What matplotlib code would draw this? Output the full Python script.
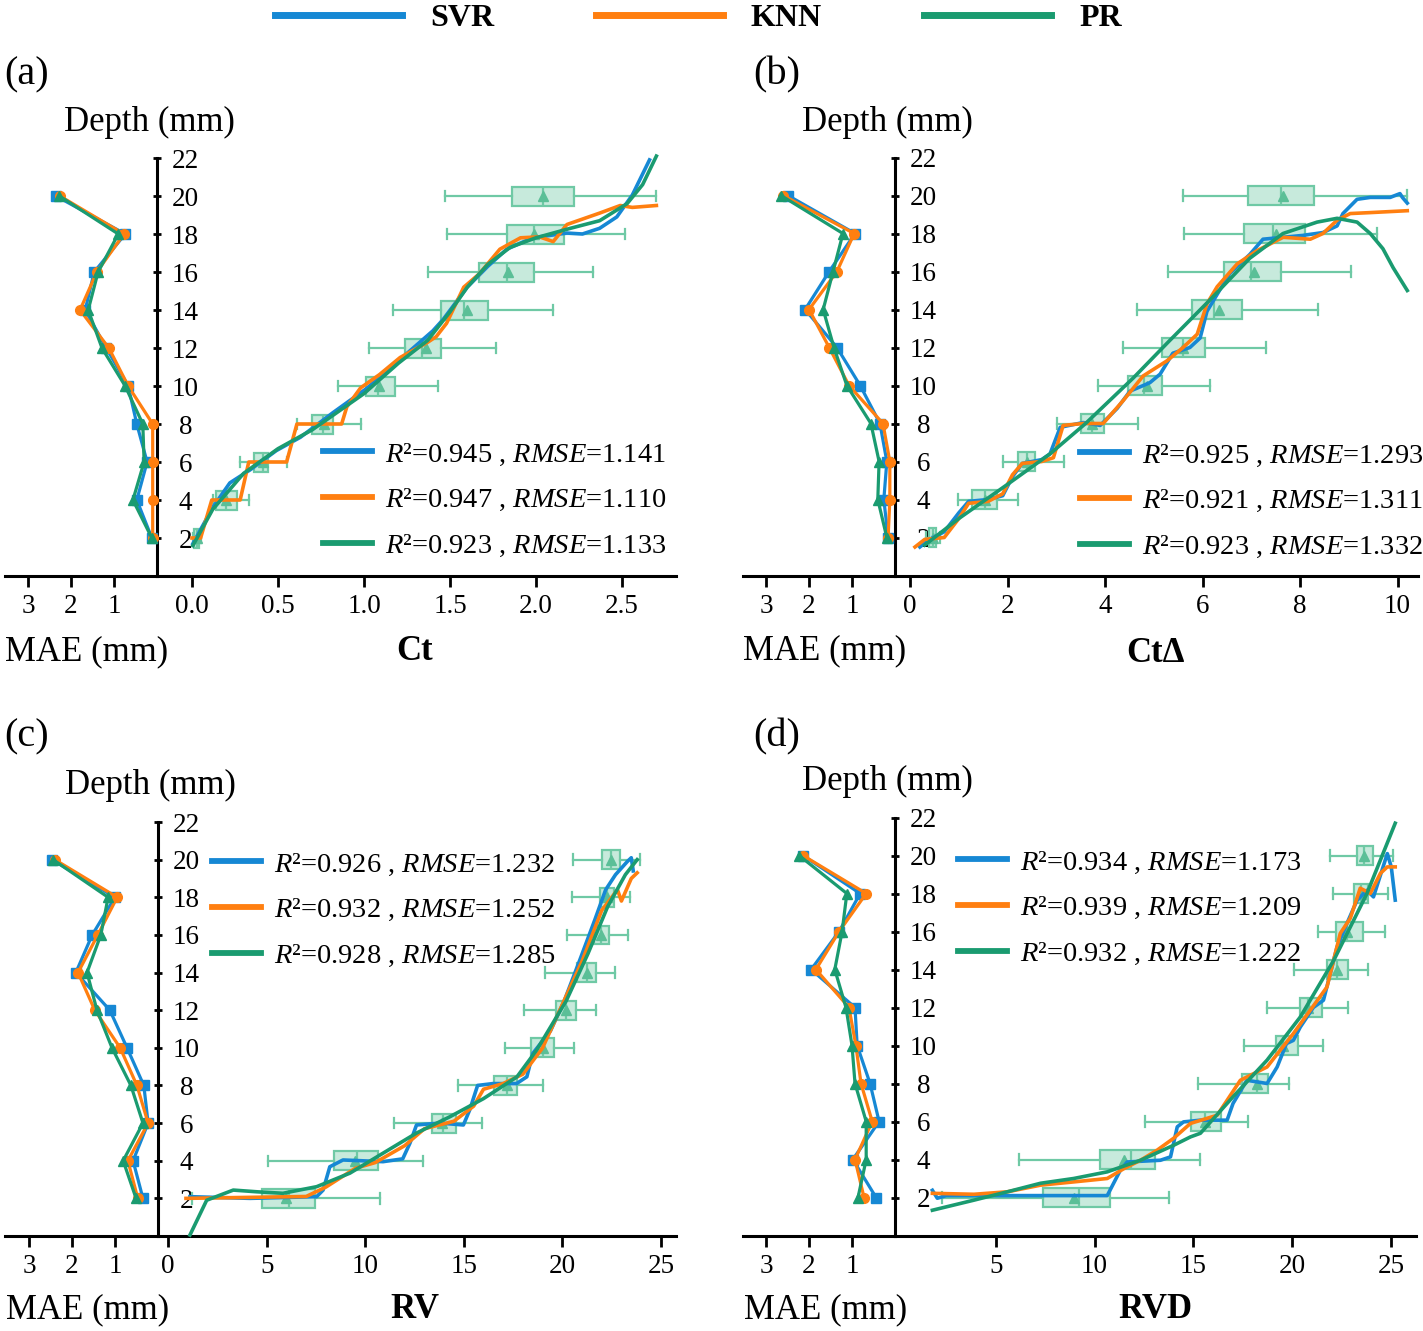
import numpy as np
import matplotlib
matplotlib.use("Agg")
import matplotlib.pyplot as plt
from matplotlib.lines import Line2D

plt.rcParams['font.family'] = ['Liberation Serif', 'DejaVu Serif']
plt.rcParams['mathtext.fontset'] = 'custom'
plt.rcParams['mathtext.it'] = 'Liberation Serif:italic'
plt.rcParams['mathtext.rm'] = 'Liberation Serif'

# ---------------- data ----------------
depths = [2, 4, 6, 8, 10, 12, 14, 16, 18, 20]
models = ["SVR", "KNN", "PR"]
panel_names = ["Ct", "CtΔ", "RV", "RVD"]
panel_tags = ["(a)", "(b)", "(c)", "(d)"]

# MAE (mm) by depth
mae_a = {"SVR": [0.12, 0.47, 0.23, 0.47, 0.67, 1.18, 1.67, 1.46, 0.74, 2.35],
         "KNN": [0.10, 0.10, 0.10, 0.10, 0.67, 1.12, 1.79, 1.40, 0.77, 2.26],
         "PR":  [0.12, 0.56, 0.30, 0.33, 0.74, 1.28, 1.60, 1.37, 0.90, 2.27]}
mae_b = {"SVR": [0.16, 0.26, 0.19, 0.35, 0.81, 1.35, 2.09, 1.53, 0.93, 2.49],
         "KNN": [0.16, 0.12, 0.12, 0.28, 1.07, 1.53, 2.00, 1.35, 0.95, 2.60],
         "PR":  [0.19, 0.40, 0.37, 0.56, 1.12, 1.42, 1.67, 1.44, 1.21, 2.65]}
mae_c = {"SVR": [0.35, 0.58, 0.23, 0.33, 0.72, 1.12, 1.91, 1.53, 1.00, 2.47],
         "KNN": [0.47, 0.70, 0.23, 0.49, 0.88, 1.47, 1.86, 1.40, 0.95, 2.40],
         "PR":  [0.51, 0.81, 0.35, 0.63, 1.07, 1.42, 1.65, 1.33, 1.16, 2.44]}
mae_d = {"SVR": [0.44, 0.98, 0.37, 0.58, 0.88, 0.93, 1.95, 1.30, 0.81, 2.14],
         "KNN": [0.72, 0.93, 0.53, 0.79, 0.91, 1.07, 1.84, 1.30, 0.67, 2.14],
         "PR":  [0.86, 0.67, 0.67, 0.93, 1.00, 1.14, 1.40, 1.23, 1.12, 2.23]}

# box stats of the measured parameter at each depth: lo, q1, med, q3, hi, mean
box_a = [[0.005, 0.12, 0.28, 0.61, 0.85, 1.03, 1.17, 1.37, 1.48, 1.47],
         [0.01, 0.14, 0.36, 0.70, 1.01, 1.24, 1.45, 1.67, 1.83, 1.86],
         [0.03, 0.20, 0.41, 0.76, 1.08, 1.34, 1.58, 1.83, 1.99, 2.04],
         [0.04, 0.26, 0.44, 0.82, 1.18, 1.45, 1.72, 1.99, 2.16, 2.22],
         [0.05, 0.33, 0.55, 0.98, 1.43, 1.77, 2.10, 2.33, 2.52, 2.70],
         [0.03, 0.20, 0.41, 0.77, 1.09, 1.36, 1.60, 1.84, 1.99, 2.04]]
box_b = [[0.33, 0.98, 1.91, 3.02, 3.86, 4.37, 4.65, 5.30, 5.62, 5.60],
         [0.39, 1.27, 2.22, 3.51, 4.47, 5.17, 5.78, 6.43, 6.85, 6.93],
         [0.47, 1.54, 2.40, 3.73, 4.80, 5.60, 6.24, 7.00, 7.45, 7.61],
         [0.53, 1.78, 2.56, 3.98, 5.17, 6.05, 6.81, 7.61, 8.10, 8.29],
         [0.62, 2.22, 3.16, 4.68, 6.15, 7.30, 8.37, 9.05, 9.58, 10.2],
         [0.47, 1.54, 2.40, 3.73, 4.86, 5.60, 6.34, 7.06, 7.50, 7.66]]
box_c = [[1.2, 5.06, 11.46, 14.7, 17.1, 18.06, 19.13, 20.24, 20.5, 20.55],
         [4.74, 8.41, 13.37, 16.53, 18.41, 19.68, 20.75, 21.6, 21.9, 22.0],
         [6.13, 9.56, 13.95, 17.19, 19.0, 20.19, 21.26, 21.97, 22.27, 22.47],
         [7.45, 10.65, 14.6, 17.7, 19.58, 20.7, 21.71, 22.37, 22.6, 22.93],
         [10.75, 12.93, 15.9, 19.02, 20.6, 21.71, 22.68, 23.33, 23.43, 23.94],
         [6.0, 9.5, 13.9, 17.2, 19.0, 20.19, 21.26, 21.97, 22.27, 22.47]]
box_d = [[2.3, 6.16, 12.56, 15.25, 17.53, 18.72, 20.1, 21.3, 22.05, 21.92],
         [7.41, 10.25, 14.85, 17.46, 19.19, 20.4, 21.75, 22.2, 23.13, 23.27],
         [9.2, 11.85, 15.6, 18.2, 19.55, 20.81, 22.26, 22.76, 23.47, 23.6],
         [10.76, 13.03, 16.4, 18.79, 20.29, 21.5, 22.83, 23.57, 23.84, 24.1],
         [13.74, 15.35, 17.78, 19.85, 21.57, 22.8, 23.8, 24.7, 24.85, 25.09],
         [8.95, 11.5, 15.6, 18.2, 19.55, 20.81, 22.26, 22.76, 23.47, 23.6]]

# predicted depth curves (value, depth)
curve_a = {
    "SVR": [(0.005, 1.7), (0.12, 3.6), (0.22, 4.9), (0.34, 5.6), (0.49, 6.6), (0.63, 7.3), (0.82, 8.6),
            (1.02, 9.9), (1.21, 11.4), (1.40, 12.9), (1.46, 13.5), (1.60, 15.2), (1.72, 16.3), (1.83, 17.2),
            (1.98, 17.8), (2.18, 18.05), (2.27, 18.0), (2.37, 18.3), (2.47, 18.9), (2.56, 20.05), (2.66, 21.9)],
    "KNN": [(0.0, 2.0), (0.05, 2.0), (0.115, 4.0), (0.28, 4.0), (0.33, 6.0), (0.55, 6.0), (0.61, 8.0),
            (0.87, 8.0), (0.90, 8.9), (0.98, 9.9), (1.09, 10.6), (1.21, 11.5), (1.37, 12.3), (1.42, 12.6),
            (1.48, 13.3), (1.58, 15.2), (1.67, 15.9), (1.79, 17.2), (1.91, 17.8), (2.02, 17.85), (2.10, 17.6),
            (2.18, 18.5), (2.37, 19.1), (2.49, 19.5), (2.56, 19.4), (2.70, 19.5)],
    "PR": [(0.005, 1.6), (0.12, 3.5), (0.30, 5.4), (0.50, 6.7), (0.70, 7.7), (1.0, 9.6), (1.2, 11.2),
           (1.37, 12.4), (1.50, 13.9), (1.60, 15.2), (1.72, 16.4), (1.85, 17.3), (2.0, 17.8), (2.2, 18.3),
           (2.37, 18.7), (2.53, 19.6), (2.62, 20.6), (2.70, 22.1)]}
curve_b = {
    "SVR": [(0.2, 1.5), (0.4, 1.9), (0.7, 2.3), (1.0, 3.3), (1.2, 3.9), (1.6, 4.0), (1.9, 4.2), (2.1, 5.2),
            (2.3, 5.9), (2.7, 6.1), (2.87, 6.4), (3.08, 7.8), (3.55, 8.05), (3.9, 7.9), (4.25, 8.8), (4.51, 9.7),
            (4.92, 10.15), (5.13, 10.6), (5.39, 11.7), (5.74, 12.0), (5.95, 12.5), (6.09, 13.9), (6.30, 14.8),
            (6.56, 15.9), (6.97, 16.9), (7.24, 17.7), (7.65, 17.8), (8.06, 17.9), (8.47, 18.05), (8.76, 18.4),
            (8.88, 19.05), (9.17, 19.8), (9.44, 19.9), (9.85, 19.9), (10.05, 20.1), (10.1, 19.9), (10.2, 19.6)],
    "KNN": [(0.1, 1.5), (0.3, 1.9), (0.7, 2.0), (1.0, 3.0), (1.2, 3.8), (1.6, 3.9), (1.9, 4.3), (2.1, 5.3),
            (2.3, 5.9), (2.7, 6.0), (2.94, 6.2), (3.14, 7.9), (3.55, 8.0), (3.96, 8.0), (4.37, 9.2), (4.78, 10.5),
            (5.27, 11.3), (5.6, 12.0), (5.89, 12.7), (6.09, 14.3), (6.30, 15.2), (6.71, 16.4), (7.12, 17.1),
            (7.65, 17.8), (8.21, 17.7), (8.47, 18.0), (8.76, 18.7), (9.03, 19.05), (9.44, 19.1), (10.2, 19.2)],
    "PR": [(0.3, 1.6), (1.0, 3.0), (2.0, 4.8), (2.87, 6.4), (3.6, 8.0), (4.58, 10.4), (5.3, 12.3),
           (6.15, 14.5), (6.97, 16.7), (7.65, 18.0), (8.35, 18.6), (8.76, 18.8), (9.17, 18.6), (9.44, 18.0),
           (9.7, 17.2), (9.91, 16.2), (10.2, 15.0)]}
curve_c = {
    "SVR": [(1.1, 2.09), (4.15, 2.0), (7.53, 2.09), (7.86, 2.44), (8.2, 3.68), (8.87, 4.04), (10.9, 3.95),
            (11.9, 4.1), (12.27, 4.94), (12.6, 5.9), (13.8, 6.0), (14.98, 5.9), (15.3, 6.7), (15.7, 8.0),
            (16.48, 8.1), (17.68, 8.1), (18.2, 8.46), (18.5, 9.7), (19.4, 10.9), (20.1, 12.5), (20.9, 14.7),
            (21.65, 16.8), (22.2, 18.4), (22.7, 19.2), (23.3, 19.9), (23.5, 20.1), (23.6, 19.4)],
    "KNN": [(0.9, 2.0), (7.0, 2.1), (8.0, 2.6), (9.5, 3.6), (10.5, 3.9), (12.0, 4.8), (13.0, 5.7),
            (14.5, 6.1), (15.5, 6.9), (16.0, 7.8), (17.0, 8.1), (18.0, 8.6), (19.0, 10.0), (20.0, 12.3),
            (21.0, 14.6), (22.0, 17.3), (22.8, 18.4), (23.0, 17.8), (23.5, 19.0), (23.8, 19.3)],
    "PR": [(1.1, 0.05), (1.95, 1.9), (3.3, 2.44), (4.49, 2.35), (5.82, 2.27), (7.53, 2.62), (9.22, 3.34),
           (10.9, 4.4), (12.6, 5.47), (14.3, 6.34), (16.0, 7.3), (17.7, 8.46), (18.7, 9.88), (20.2, 12.5),
           (21.3, 15.0), (22.3, 17.5), (23.2, 19.2), (23.8, 20.0)]}
curve_d = {
    "SVR": [(1.8, 2.38), (2.05, 1.96), (2.5, 2.1), (10.64, 2.1), (11.3, 3.43), (11.65, 3.87), (13.33, 3.96),
            (13.84, 4.14), (14.18, 5.72), (14.5, 5.98), (15.35, 6.07), (16.7, 6.07), (17.0, 6.95), (17.7, 8.17),
            (18.72, 8.0), (19.23, 8.87), (19.7, 10.1), (20.05, 10.27), (20.4, 10.97), (21.06, 12.0),
            (21.57, 12.38), (21.92, 13.8), (22.26, 15.19), (22.76, 16.43), (23.27, 17.64), (23.77, 18.17),
            (24.1, 17.82), (24.53, 19.22), (24.8, 20.1), (25.0, 19.4), (25.2, 17.65)],
    "KNN": [(1.8, 2.22), (3.9, 2.17), (5.59, 2.3), (7.27, 2.65), (8.94, 2.82), (10.64, 3.0), (11.5, 3.53),
            (12.32, 3.96), (13.16, 4.49), (14.0, 5.12), (14.85, 5.9), (16.2, 6.33), (17.37, 8.17),
            (18.72, 8.87), (20.05, 10.63), (20.9, 11.85), (21.75, 13.08), (22.42, 15.9), (22.93, 16.7),
            (23.43, 18.28), (23.94, 18.0), (24.45, 19.06), (24.8, 19.4), (25.2, 19.4)],
    "PR": [(1.8, 1.33), (3.9, 1.86), (5.59, 2.3), (7.27, 2.75), (8.94, 3.0), (10.64, 3.35), (12.32, 3.96),
           (14.0, 4.75), (14.85, 5.19), (15.35, 5.38), (17.0, 7.3), (18.72, 9.23), (20.4, 11.5), (22.1, 14.5),
           (23.77, 18.0), (25.2, 21.7)]}

r2_a, rmse_a = [0.945, 0.947, 0.923], [1.141, 1.110, 1.133]
r2_b, rmse_b = [0.925, 0.921, 0.923], [1.293, 1.311, 1.332]
r2_c, rmse_c = [0.926, 0.932, 0.928], [1.232, 1.252, 1.285]
r2_d, rmse_d = [0.934, 0.939, 0.932], [1.173, 1.209, 1.222]

xticks_a = [0.0, 0.5, 1.0, 1.5, 2.0, 2.5]
xticks_b = [0, 2, 4, 6, 8, 10]
xticks_c = [0, 5, 10, 15, 20, 25]
xticks_d = [5, 10, 15, 20, 25]

# ---------------- style / layout ----------------
colors = {"SVR": "#1688D4", "KNN": "#FF7F10", "PR": "#1A9B70"}
markers = {"SVR": "s", "KNN": "o", "PR": "^"}
box_edge = "#6FC9A5"
box_face = "#C7EADC"

W, H = 1423, 1331
fig = plt.figure(figsize=(W / 100, H / 100), dpi=100)


def px_axes(l, r, b, t):
    return fig.add_axes([l / W, 1 - b / H, (r - l) / W, (b - t) / H])


# pixel geometry: left, depth-axis x, right, bottom(depth 0), top(depth 22), main xlim
layout = [
    dict(l=5, ax=157, r=676, b=576, t=158, xlim=(-0.2035, 2.814), fmt="{:.1f}",
         tag=(27, 75), depth_lbl=(149, 122), mae_lbl=(87, 652), name_lbl=(415, 652), leg=(323, 500)),
    dict(l=743, ax=895, r=1418, b=575.5, t=157.5, xlim=(-0.31, 10.42), fmt="{:g}",
         tag=(777, 75), depth_lbl=(887, 122), mae_lbl=(825, 651), name_lbl=(1155, 653), leg=(1080, 501)),
    dict(l=5, ax=158, r=676, b=1236, t=822, xlim=(-0.52, 25.77), fmt="{:g}",
         tag=(27, 737), depth_lbl=(150, 785), mae_lbl=(88, 1310), name_lbl=(415, 1310), leg=(212, 910)),
    dict(l=743, ax=895, r=1416, b=1235.5, t=817.5, xlim=(-0.09, 26.25), fmt="{:g}",
         tag=(777, 737), depth_lbl=(887, 781), mae_lbl=(826, 1310), name_lbl=(1155, 1310), leg=(958, 908)),
]

maes = [mae_a, mae_b, mae_c, mae_d]
boxes = [box_a, box_b, box_c, box_d]
curves = [curve_a, curve_b, curve_c, curve_d]
r2s = [r2_a, r2_b, r2_c, r2_d]
rmses = [rmse_a, rmse_b, rmse_c, rmse_d]
xticks = [xticks_a, xticks_b, xticks_c, xticks_d]

for i, g in enumerate(layout):
    # ---- MAE profile (left) ----
    am = px_axes(g["l"], g["ax"], g["b"], g["t"])
    am.patch.set_visible(False)
    am.set_xlim((g["ax"] - g["l"]) / 43.0, 0)
    am.set_ylim(0, 22)
    for k in ("top", "left"):
        am.spines[k].set_visible(False)
    for k in ("bottom", "right"):
        am.spines[k].set_linewidth(2.2)
    am.yaxis.tick_right()
    am.set_yticks(range(2, 23, 2))
    am.tick_params(axis="y", direction="inout", length=6, width=2, labelsize=19.5, pad=17.5)
    for lbl in am.get_yticklabels():
        lbl.set_horizontalalignment("center")
    am.set_xticks([1, 2, 3])
    am.tick_params(axis="x", direction="out", length=8, width=2, labelsize=19.5, pad=5)
    for m in models:
        am.plot(maes[i][m], depths, color=colors[m], marker=markers[m], ms=7, lw=2.3, clip_on=False, zorder=3)

    # ---- main panel (right) ----
    ax = px_axes(g["ax"], g["r"], g["b"], g["t"])
    ax.patch.set_visible(False)
    ax.set_xlim(*g["xlim"])
    ax.set_ylim(0, 22)
    for k in ("top", "left", "right"):
        ax.spines[k].set_visible(False)
    ax.spines["bottom"].set_linewidth(2.2)
    ax.set_yticks([])
    ax.set_xticks(xticks[i])
    ax.set_xticklabels([g["fmt"].format(v) for v in xticks[i]])
    ax.tick_params(axis="x", direction="out", length=8, width=2, labelsize=19.5, pad=5)

    lo, q1, med, q3, hi, mean = boxes[i]
    stats = [dict(whislo=lo[j], q1=q1[j], med=med[j], q3=q3[j], whishi=hi[j], mean=mean[j], fliers=[])
             for j in range(len(depths))]
    ax.bxp(stats, positions=depths, widths=1.0, capwidths=0.55, orientation="horizontal",
           patch_artist=True, showmeans=True, manage_ticks=False,
           boxprops=dict(facecolor=box_face, edgecolor=box_edge, linewidth=1.6),
           whiskerprops=dict(color=box_edge, linewidth=1.6),
           capprops=dict(color=box_edge, linewidth=1.6),
           medianprops=dict(color=box_edge, linewidth=1.6),
           meanprops=dict(marker="^", markerfacecolor="#5BBF97", markeredgecolor="#5BBF97", markersize=7))

    for m in models:
        xy = np.array(curves[i][m])
        ax.plot(xy[:, 0], xy[:, 1], color=colors[m], lw=2.6, clip_on=False, zorder=4)

    handles = [Line2D([], [], color=colors[m], lw=4.2) for m in models]
    labels = ["$R$²={:.3f} , $RMSE$={:.3f}".format(r2s[i][k], rmses[i][k]) for k in range(3)]
    ax.legend(handles, labels, loc="center left",
              bbox_to_anchor=(g["leg"][0] / W, 1 - g["leg"][1] / H), bbox_transform=fig.transFigure,
              frameon=False, borderpad=0, borderaxespad=0, handlelength=1.72, handletextpad=0.45,
              labelspacing=0.68, fontsize=20.5)

    fig.text(g["tag"][0] / W, 1 - g["tag"][1] / H, panel_tags[i], ha="center", va="center", fontsize=29)
    fig.text(g["depth_lbl"][0] / W, 1 - g["depth_lbl"][1] / H, "Depth (mm)", ha="center", va="center", fontsize=25)
    fig.text(g["mae_lbl"][0] / W, 1 - g["mae_lbl"][1] / H, "MAE (mm)", ha="center", va="center", fontsize=25)
    fig.text(g["name_lbl"][0] / W, 1 - g["name_lbl"][1] / H, panel_names[i], ha="center", va="center",
             fontsize=25, fontweight="bold")

top_handles = [Line2D([], [], color=colors[m], lw=5) for m in models]
fig.legend(top_handles, models, loc="center left", bbox_to_anchor=(275 / W, 1 - 18 / H), ncol=3,
           frameon=False, borderpad=0, borderaxespad=0, handlelength=3.97, handletextpad=0.875,
           columnspacing=3.2, prop=dict(weight="bold", size=23))

fig.savefig("out.png", dpi=100)
